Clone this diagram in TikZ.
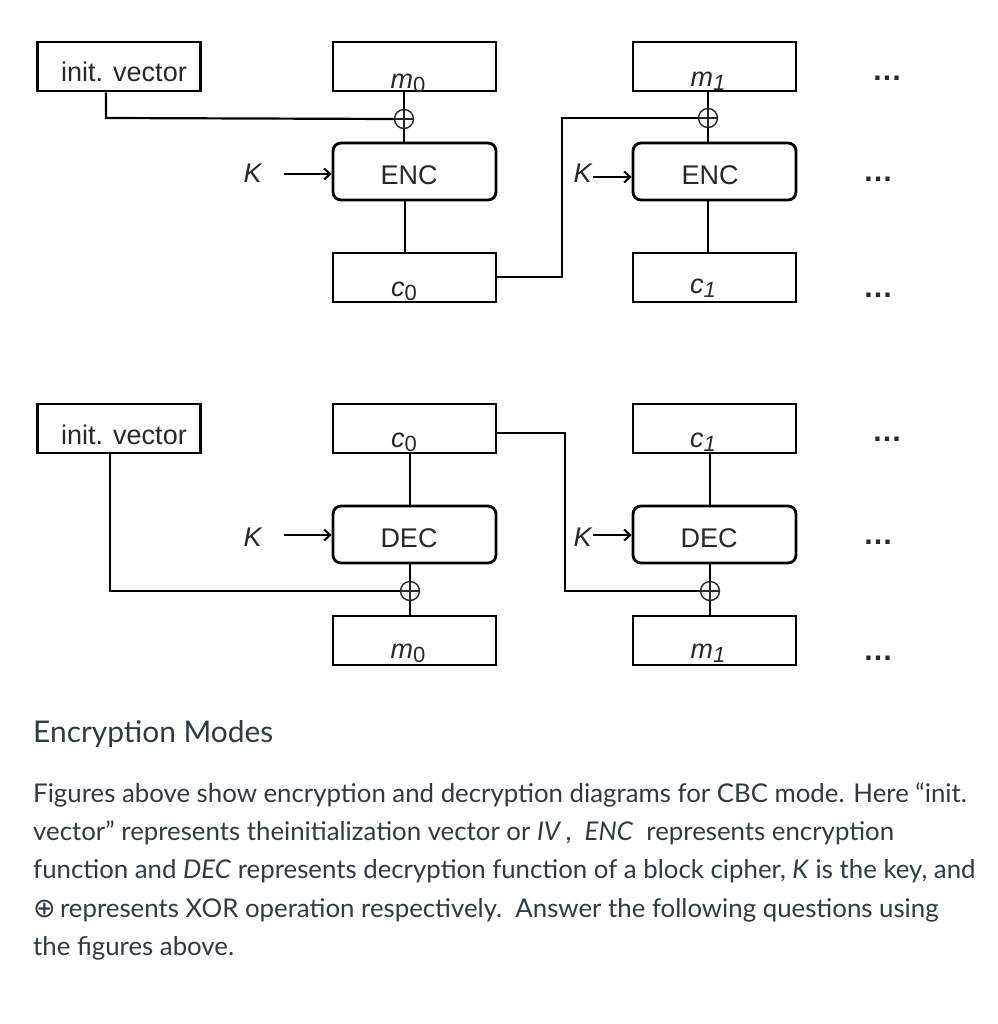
\documentclass[tikz,border=0pt]{standalone}
\usepackage{fontspec}
\setmainfont{Liberation Sans}
\newfontfamily\lato{Lato}
\newfontfamily\djv{DejaVu Sans}
\usetikzlibrary{arrows.meta}
\definecolor{txt}{RGB}{40,40,40}
\definecolor{para}{RGB}{45,59,69}
\newcommand\lab[2]{\textit{#1}{\fontsize{22}{22}\selectfont\raisebox{-4pt}{#2}}}
\begin{document}
\begin{tikzpicture}[x=1pt,y=-1pt,
  blk/.style={draw=black,line width=2.8pt,minimum width=163pt,minimum height=49pt,inner sep=0pt},
  fn/.style={blk,rounded corners=8pt,minimum height=57pt},
  dtxt/.style={text=txt,font=\fontsize{27}{30}\selectfont,inner sep=0pt,anchor=base},
  xor/.style={circle,draw=txt,line width=1.4pt,minimum size=19pt,inner sep=0pt,
     path picture={\draw[txt,line width=1.4pt] (path picture bounding box.north) -- (path picture bounding box.south)
       (path picture bounding box.west) -- (path picture bounding box.east);}},
  conn/.style={line width=2.2pt,black},
  karrow/.style={conn,-{Straight Barb[length=6pt,width=11pt,line width=2pt]}},
  dots/.style={text=txt,font=\bfseries\fontsize{30}{30}\selectfont,inner sep=0pt},
  ptxt/.style={text=para,font=\lato\fontsize{25.8}{30}\selectfont,inner sep=0pt,anchor=base west}]
\useasboundingbox (0,0) rectangle (997,1024);

% ===== Encryption =====
\node[blk] (iv1) at (119,66.5) {};
\node[dtxt] (iv1t) at (124,82) {init. vector};
\node[blk] (m0a) at (414.5,66.5) {};
\node[dtxt] (m0at) at (408,89) {\lab{m}{0}};
\node[blk] (m1a) at (714.5,66.5) {};
\node[dtxt] (m1at) at (708,87) {\lab{m}{\textit{1}}};
\node[xor] (x1) at (404,119) {};
\node[xor] (x2) at (708,118) {};
\node[fn] (enc1) at (414.5,171.5) {};
\node[dtxt] (enc1t) at (409,185) {ENC};
\node[fn] (enc2) at (714.5,171.5) {};
\node[dtxt] (enc2t) at (710,185) {ENC};
\node[dtxt] (k1) at (253,183) {\textit{K}};
\node[dtxt] (k2) at (583,183) {\textit{K}};
\node[blk] (c0a) at (414.5,277.5) {};
\node[dtxt] (c0at) at (404,296) {\lab{c}{0}};
\node[blk] (c1a) at (714.5,277.5) {};
\node[dtxt] (c1at) at (703,293) {\lab{c}{\textit{1}}};
\node[dots] (d1) at (887,78) {…};
\node[dots] (d2) at (878,179) {…};
\node[dots] (d3) at (878,295) {…};

\coordinate (ivd1) at (106,118);
\coordinate (cc1) at (562,277);
\coordinate (cc2) at (562,118);
\draw[conn] (iv1.south -| ivd1) -- (ivd1) -- (x1.west);
\draw[conn] (m0a.south -| x1) -- (x1.north);
\draw[conn] (x1.south) -- (enc1.north -| x1);
\draw[conn] (enc1.south -| 405,0) -- (c0a.north -| 405,0);
\draw[conn] (m1a.south -| x2) -- (x2.north);
\draw[conn] (x2.south) -- (enc2.north -| x2);
\draw[conn] (enc2.south -| x2) -- (c1a.north -| x2);
\draw[conn] (c0a.east |- cc1) -- (cc1) -- (cc2) -- (x2.west);
\draw[karrow,shorten <=21pt] (k1.east |- 0,174) -- (enc1.west |- 0,174);
\draw[karrow] (k2.east |- 0,177) -- (enc2.west |- 0,177);

% ===== Decryption =====
\node[blk] (iv2) at (119,428.5) {};
\node[dtxt] (iv2t) at (124,444) {init. vector};
\node[blk] (c0b) at (414.5,428.5) {};
\node[dtxt] (c0bt) at (404,447) {\lab{c}{0}};
\node[blk] (c1b) at (714.5,428.5) {};
\node[dtxt] (c1bt) at (703,447) {\lab{c}{\textit{1}}};
\node[fn] (dec1) at (414.5,534.5) {};
\node[dtxt] (dec1t) at (409,547) {DEC};
\node[fn] (dec2) at (714.5,534.5) {};
\node[dtxt] (dec2t) at (709,547) {DEC};
\node[dtxt] (k3) at (253,546) {\textit{K}};
\node[dtxt] (k4) at (583,546) {\textit{K}};
\node[xor] (x3) at (410,591) {};
\node[xor] (x4) at (710,591) {};
\node[blk] (m0b) at (414.5,640.5) {};
\node[dtxt] (m0bt) at (408,658) {\lab{m}{0}};
\node[blk] (m1b) at (714.5,640.5) {};
\node[dtxt] (m1bt) at (708,658) {\lab{m}{\textit{1}}};
\node[dots] (d4) at (887,439) {…};
\node[dots] (d5) at (878,542) {…};
\node[dots] (d6) at (878,658) {…};

\coordinate (ivd2) at (110,591);
\coordinate (cc3) at (565,433);
\coordinate (cc4) at (565,591);
\draw[conn] (iv2.south -| ivd2) -- (ivd2) -- (x3.west);
\draw[conn] (c0b.south -| x3) -- (dec1.north -| x3);
\draw[conn] (dec1.south -| x3) -- (x3.north);
\draw[conn] (x3.south) -- (m0b.north -| x3);
\draw[conn] (c1b.south -| x4) -- (dec2.north -| x4);
\draw[conn] (dec2.south -| x4) -- (x4.north);
\draw[conn] (x4.south) -- (m1b.north -| x4);
\draw[conn] (c0b.east |- cc3) -- (cc3) -- (cc4) -- (x4.west);
\draw[karrow,shorten <=21pt] (k3.east |- 0,535) -- (dec1.west |- 0,535);
\draw[karrow] (k4.east |- 0,535) -- (dec2.west |- 0,535);

% ===== Text =====
\node[ptxt,font=\lato\fontsize{29.9}{34}\selectfont] (title) at (33,742) {Encryption Modes};
\node[ptxt] (p1) at (33,802) {Figures above show encryption and decryption diagrams for CBC mode. Here “init.};
\node[ptxt] (p2) at (33,840) {vector” represents theinitialization vector or \textit{IV}\,,\ \ \textit{ENC}\ \ represents encryption};
\node[ptxt] (p3) at (33,878.5) {function and \textit{DEC} represents decryption function of a block cipher, \textit{K} is the key, and};
\node[ptxt] (p4) at (33,917) {{\djv\itshape\fontsize{27}{27}\selectfont ⊕}\,represents XOR operation respectively.\ \ Answer the following questions using};
\node[ptxt] (p5) at (33,955.5) {the figures above.};
\end{tikzpicture}
\end{document}
